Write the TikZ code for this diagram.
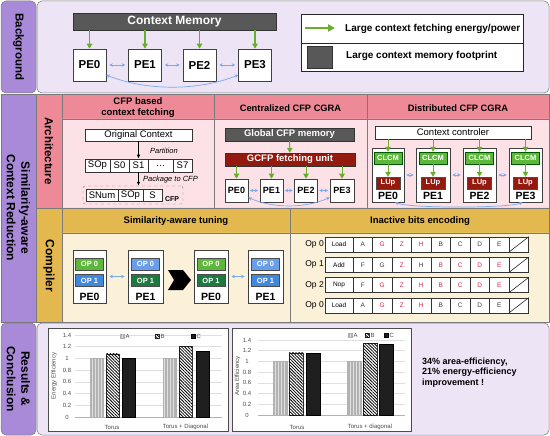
\documentclass[tikz,border=0pt]{standalone}
\usepackage{fontspec}
\setmainfont{Liberation Sans}
\usetikzlibrary{arrows.meta,patterns,patterns.meta}
\definecolor{lblpurple}{HTML}{A98AD8}
\definecolor{lav}{HTML}{EDE4F6}
\definecolor{pinkh}{HTML}{EE8A98}
\definecolor{pinkb}{HTML}{FCE1E6}
\definecolor{goldh}{HTML}{E3B84E}
\definecolor{goldb}{HTML}{FBF0D8}
\definecolor{garrow}{HTML}{6AAE2E}
\definecolor{barrowc}{HTML}{7AA9EE}
\definecolor{cmgray}{HTML}{585858}
\definecolor{dred}{HTML}{941A10}
\definecolor{opgreen}{HTML}{5DB83A}
\definecolor{opdgreen}{HTML}{1C7A3E}
\definecolor{opblue}{HTML}{3F88E0}
\definecolor{oplblue}{HTML}{6B9EEA}
\definecolor{tk}{HTML}{3A3A3A}
\definecolor{tr}{HTML}{D8254A}
\definecolor{framegray}{HTML}{7A7A7A}
\newcommand\fsz[1]{\fontsize{#1}{#1}\selectfont}
\newcommand\cellrow[5]{%
  \node[anchor=east, font=\fsz{8.5}, inner sep=0.5pt] (#1lab) at (324.5,#2) {#3};
  \node[tcell, minimum width=28pt, minimum height=15pt, font=\fsz{6.5}] (#1c0) at (339,#2) {#4};
  \foreach \t/\c [count=\i] in {#5} {
    \node[tcell, minimum width=19.5pt, minimum height=15pt, text=\c, font=\fsz{6.5}] (#1c\i) at ({343.25+\i*19.5},#2) {\t};
  }
  \node[tcell, minimum width=19.5pt, minimum height=15pt] (#1sl) at (518.75,#2) {};
  \draw[black!85, line width=0.6pt] (#1sl.south west) -- (#1sl.north east);
}
\begin{document}
\begin{tikzpicture}[x=1pt,y=-1pt,
  frame/.style={draw=framegray, line width=0.5pt},
  pe/.style={draw=black!75, fill=white, line width=0.6pt, inner sep=0pt, font=\bfseries\fsz{11.5}},
  garr/.style={-{Triangle[length=5pt,width=5.5pt]}, draw=garrow, line width=1.3pt},
  barr/.style={{Stealth[length=3.5pt,width=3.5pt]}-{Stealth[length=3.5pt,width=3.5pt]}, draw=barrowc, line width=0.7pt},
  tcell/.style={draw=black!80, fill=white, line width=0.6pt, inner sep=0pt, text=black},
  opbox/.style={draw=black!70, minimum width=28pt, minimum height=12pt, inner sep=0pt, text=white, font=\bfseries\fsz{7.5}},
  barA/.style={fill=gray!25, draw=gray!60, line width=0.3pt, postaction={pattern={Lines[angle=90,distance=1.5pt,line width=0.3pt]}, pattern color=gray!60}},
  barB/.style={fill=white, draw=black!80, line width=0.3pt, postaction={pattern={Lines[angle=-45,distance=2.2pt,line width=0.8pt]}, pattern color=black}},
  barC/.style={fill=black!88, draw=black, line width=0.3pt},
  ctxt/.style={font=\fsz{6}, text=black!70, inner sep=0.5pt},
  txtsm/.style={inner sep=1pt}
]
\useasboundingbox (0,0) rectangle (550,436);

% ===== Background =====
\draw[frame, fill=lblpurple, rounded corners=5pt] (1,1) rectangle (36,93);
\node[rotate=-90, font=\bfseries\fsz{11.5}] (bgl) at (18.5,47) {Background};
\draw[frame, fill=lav, rounded corners=5pt] (37,1) rectangle (549,93);

\node[fill=cmgray, draw=black!80, minimum width=203pt, minimum height=17pt, inner sep=0pt, text=white, font=\bfseries\fsz{12}] (cm) at (174.5,21.5) {Context Memory};
\node[pe, minimum width=33pt, minimum height=32pt] (b0) at (89.5,65) {PE0};
\node[pe, minimum width=33pt, minimum height=32pt] (b1) at (145,65) {PE1};
\node[pe, minimum width=33pt, minimum height=32pt] (b2) at (199.5,65) {PE2};
\node[pe, minimum width=33pt, minimum height=32pt] (b3) at (255,65) {PE3};
\foreach \n in {b0,b1,b2,b3} \draw[garr] (cm.south -| \n) -- (\n.north);
\draw[barr, shorten <=3pt, shorten >=3pt] (b0) -- (b1);
\draw[barr, shorten <=3pt, shorten >=3pt] (b1) -- (b2);
\draw[barr, shorten <=3pt, shorten >=3pt] (b2) -- (b3);
\draw[barr] ([yshift=-10pt]b0.east) .. controls +(40,16) and +(-40,16) .. ([yshift=-10pt]b3.west);

\node[draw=black!85, fill=white, line width=0.6pt, minimum width=222pt, minimum height=57pt, inner sep=0pt] (leg) at (412,42.5) {};
\draw[black!85, line width=0.6pt] (leg.west |- 0,43) -- (leg.east |- 0,43);
\coordinate (la0) at (305,28);
\coordinate (la1) at (335,28);
\draw[garr, line width=1.8pt, -{Triangle[length=7pt,width=7pt]}] (la0) -- (la1);
\node[anchor=west, font=\bfseries\fsz{10}, txtsm] (lt1) at (344,28.5) {Large context fetching energy/power};
\node[fill=cmgray, draw=black!80, minimum width=25pt, minimum height=22pt, inner sep=0pt] (lsq) at (320,57) {};
\node[anchor=west, font=\bfseries\fsz{10}, txtsm] (lt2) at (345,56) {Large context memory footprint};

% ===== Similarity-aware =====
\draw[frame, fill=lblpurple] (1,94) rectangle (36,322);
\node[rotate=-90, align=center, font=\bfseries\fontsize{12}{14.5}\selectfont, inner sep=0pt] (simlbl) at (18.5,208) {Similarity-aware\\Context Reduction};
\draw[frame, fill=pinkh] (36,94) rectangle (62,208);
\node[rotate=-90, font=\bfseries\fsz{11.5}] (archl) at (49,151) {Architecture};
\draw[frame, fill=goldh] (36,208) rectangle (62,322);
\node[rotate=-90, font=\bfseries\fsz{12}] (compl) at (49,266) {Compiler};

\draw[frame, fill=pinkh] (62,94) rectangle (214,119) (214,94) rectangle (367,119) (367,94) rectangle (549,119);
\draw[frame, fill=pinkb] (62,119) rectangle (214,208) (214,119) rectangle (367,208) (367,119) rectangle (549,208);
\node[align=center, font=\bfseries\fontsize{9.5}{11.5}\selectfont] (h1) at (138,107.5) {CFP based\\context fetching};
\node[font=\bfseries\fsz{9.3}] (h2) at (290.5,108) {Centralized CFP CGRA};
\node[font=\bfseries\fsz{9.3}] (h3) at (458,108) {Distributed CFP CGRA};

\draw[frame, fill=goldh] (62,208) rectangle (290,233) (290,208) rectangle (549,233);
\draw[frame, fill=goldb] (62,233) rectangle (290,322) (290,233) rectangle (549,322);
\node[font=\bfseries\fsz{9.5}] (h4) at (176,221.5) {Similarity-aware tuning};
\node[font=\bfseries\fsz{9.5}] (h5) at (420,221.5) {Inactive bits encoding};

% --- CFP based context fetching ---
\node[tcell, minimum width=107pt, minimum height=12pt, font=\fsz{9.5}] (oc) at (138.5,135) {Original Context};
\node[tcell, minimum width=25pt, minimum height=13pt, font=\fsz{9.5}] (c0) at (97.5,165.5) {SOp};
\node[tcell, minimum width=19pt, minimum height=13pt, font=\fsz{9.5}] (c1) at (119.5,165.5) {S0};
\node[tcell, minimum width=19pt, minimum height=13pt, font=\fsz{9.5}] (c2) at (138.5,165.5) {S1};
\node[tcell, minimum width=25pt, minimum height=13pt, font=\fsz{9.5}] (c3) at (160.5,165.5) {\dots};
\node[tcell, minimum width=19pt, minimum height=13pt, font=\fsz{9.5}] (c4) at (182.5,165.5) {S7};
\draw[-{Latex[length=4pt,width=3.5pt]}, line width=0.8pt] (oc.south -| c2) -- (c2.north);
\node[anchor=west, font=\itshape\fsz{7.5}, txtsm] (pt) at (149,151) {Partition};
\node[draw=gray, dashed, rounded corners=2pt, minimum width=100pt, minimum height=18pt, inner sep=0pt] (cfpb) at (133,195) {};
\draw[-{Latex[length=4pt,width=3.5pt]}, line width=0.8pt] (c2.south) -- (cfpb.north -| c2);
\node[anchor=west, font=\itshape\fsz{7.5}, txtsm] (pk) at (142,180) {Package to CFP};
\node[tcell, minimum width=32pt, minimum height=12pt, font=\fsz{9.5}] (s0) at (102,195) {SNum};
\node[tcell, minimum width=25pt, minimum height=12pt, font=\fsz{9.5}] (s1) at (130.5,195) {SOp};
\node[tcell, minimum width=19pt, minimum height=12pt, font=\fsz{9.5}] (s2) at (152.5,195) {S};
\node[font=\bfseries\fsz{7}, txtsm] (cfpl) at (172,199.5) {CFP};

% --- Centralized ---
\node[fill=cmgray, draw=black!80, minimum width=129pt, minimum height=13pt, inner sep=0pt, text=white, font=\bfseries\fsz{9.5}] (gm) at (289.5,134.5) {Global CFP memory};
\node[fill=dred, draw=black!80, minimum width=130pt, minimum height=13pt, inner sep=0pt, text=white, font=\bfseries\fsz{9.5}] (gf) at (290,159.5) {GCFP fetching unit};
\draw[garr, line width=1pt] (gm) -- (gf);
\node[pe, minimum width=23pt, minimum height=23pt, font=\bfseries\fsz{9}] (cp0) at (236.5,190.5) {PE0};
\node[pe, minimum width=23pt, minimum height=23pt, font=\bfseries\fsz{9}] (cp1) at (271.5,190.5) {PE1};
\node[pe, minimum width=23pt, minimum height=23pt, font=\bfseries\fsz{9}] (cp2) at (306,190.5) {PE2};
\node[pe, minimum width=24pt, minimum height=23pt, font=\bfseries\fsz{9}] (cp3) at (342,190.5) {PE3};
\foreach \n in {cp0,cp1,cp2,cp3} \draw[garr, line width=1pt] (gf.south -| \n) -- (\n.north);
\draw[barr, shorten <=1.5pt, shorten >=1.5pt] (cp0) -- (cp1);
\draw[barr, shorten <=1.5pt, shorten >=1.5pt] (cp1) -- (cp2);
\draw[barr, shorten <=1.5pt, shorten >=1.5pt] (cp2) -- (cp3);
\draw[barr] ([yshift=-7pt]cp0.east) .. controls +(25,11) and +(-25,11) .. ([yshift=-7pt]cp3.west);

% --- Distributed ---
\node[tcell, minimum width=156pt, minimum height=13pt, font=\fsz{9.5}] (ctl) at (453,132.5) {Context controler};
\foreach \n/\x/\w/\lab in {0/388/32/PE0, 1/433/34/PE1, 2/479.5/33/PE2, 3/525.5/33/PE3} {
  \node[draw=black!75, fill=white, line width=0.7pt, minimum width=\w pt, minimum height=54pt, inner sep=0pt] (dp\n) at (\x,175) {};
  \node[fill=opgreen, draw=green!35!black, text=white, font=\bfseries\fsz{7.5}, minimum width=28pt, minimum height=12pt, inner sep=0pt] (cl\n) at (\x,158) {CLCM};
  \node[fill=dred, draw=black!70, text=white, font=\bfseries\fsz{7.5}, minimum width=24pt, minimum height=12pt, inner sep=0pt] (lu\n) at (\x,183) {LUp};
  \node[font=\bfseries\fsz{10.5}, inner sep=0pt] (dl\n) at (\x,196) {\lab};
  \draw[garr, line width=1pt] (ctl.south -| cl\n) -- (cl\n.north);
  \draw[garr, line width=1pt] (cl\n) -- (lu\n);
}
\draw[barr, shorten <=2pt, shorten >=2pt] (dp0) -- (dp1);
\draw[barr, shorten <=2pt, shorten >=2pt] (dp1) -- (dp2);
\draw[barr, shorten <=2pt, shorten >=2pt] (dp2) -- (dp3);
\draw[barr] ([xshift=7pt]dp0.south) .. controls +(15,6) and +(-15,6) .. ([xshift=-3pt]dp3.south);

% --- Similarity-aware tuning ---
\foreach \n/\x/\w/\ca/\cb/\lab in {0/89.5/33/opgreen/opblue/PE0, 1/145.5/35/oplblue/opdgreen/PE1, 2/211/34/opgreen/opdgreen/PE0, 3/265.5/35/oplblue/opblue/PE1} {
  \node[draw=black!75, fill=white, line width=0.7pt, minimum width=\w pt, minimum height=53pt, inner sep=0pt] (t\n) at (\x,276.5) {};
  \node[opbox, fill=\ca] (ta\n) at (\x,264) {OP 0};
  \node[opbox, fill=\cb] (tb\n) at (\x,280.5) {OP 1};
  \node[font=\bfseries\fsz{10.5}, inner sep=0pt] (tl\n) at (\x,297) {\lab};
}
\draw[barr, shorten <=3pt, shorten >=3pt] (t0) -- (t1);
\draw[barr, shorten <=3pt, shorten >=3pt] (t2) -- (t3);
\fill[black] (168,270) -- (183,270) -- (191,280) -- (183,290) -- (168,290) -- (174,280) -- cycle;

% --- Inactive bits encoding ---
\cellrow{ra}{244.5}{Op 0}{Load}{A/tk,G/tr,Z/tr,H/tr,B/tk,C/tk,D/tk,E/tk}
\cellrow{rb}{264.8}{Op 1}{Add}{F/tk,G/tk,Z/tr,H/tk,B/tr,C/tr,D/tr,E/tr}
\cellrow{rc}{285.1}{Op 2}{Nop}{F/tk,G/tr,Z/tr,H/tr,B/tr,C/tr,D/tr,E/tr}
\cellrow{rd}{305.4}{Op 0}{Load}{A/tk,G/tr,Z/tr,H/tr,B/tk,C/tk,D/tk,E/tk}

% ===== Results =====
\draw[frame, fill=lblpurple, rounded corners=5pt] (1,323) rectangle (36,435);
\node[rotate=-90, align=center, font=\bfseries\fontsize{12}{14.5}\selectfont, inner sep=0pt] (resl) at (18.5,379) {Results \&\\Conclusion};
\draw[frame, fill=lav, rounded corners=5pt] (37,323) rectangle (549,435);

% chart 1
\node[draw=black!70, fill=white, line width=0.6pt, minimum width=180pt, minimum height=103pt, inner sep=0pt] (ch1) at (138,379.5) {};
\foreach \i/\lab in {0/0,1/0.2,2/0.4,3/0.6,4/0.8,5/1,6/1.2,7/1.4} {
  \pgfmathsetmacro\yy{417-\i*0.2*58.6}
  \draw[gray!25, line width=0.4pt] (75,\yy) -- (222,\yy);
  \node[ctxt] at (67,\yy) {\lab};
}
\draw[gray!60, line width=0.4pt] (75,417) -- (222,417);
\foreach \x/\v in {90/1.0, 163/1.0} \draw[barA] (\x,417) rectangle ++(13,-\v*58.6);
\foreach \x/\v in {106/1.08, 179/1.21} \draw[barB] (\x,417) rectangle ++(13,-\v*58.6);
\foreach \x/\v in {122/1.0, 196/1.12} \draw[barC] (\x,417) rectangle ++(13,-\v*58.6);
\node[rotate=90, ctxt] (yt1) at (54,376) {Energy Efficiency};
\node[ctxt] (xa1) at (112,427) {Torus};
\node[ctxt] (xb1) at (185.5,427) {Torus + Diagonal};
\draw[barA] (120,334) rectangle ++(4,4);
\node[ctxt, anchor=west] (la) at (125,336) {A};
\draw[barB] (155,334) rectangle ++(4,4);
\node[ctxt, anchor=west] (lb) at (160,336) {B};
\draw[barC] (191,334) rectangle ++(4,4);
\node[ctxt, anchor=west] (lc) at (196,336) {C};

% chart 2
\node[draw=black!70, fill=white, line width=0.6pt, minimum width=179pt, minimum height=103pt, inner sep=0pt] (ch2) at (321.5,379.5) {};
\foreach \i/\lab in {0/0,1/0.2,2/0.4,3/0.6,4/0.8,5/1,6/1.2,7/1.4} {
  \pgfmathsetmacro\yy{415-\i*0.2*53.6}
  \draw[gray!25, line width=0.4pt] (258,\yy) -- (405,\yy);
  \node[ctxt] at (247,\yy) {\lab};
}
\draw[gray!60, line width=0.4pt] (258,415) -- (405,415);
\foreach \x/\v in {273/1.0, 347/1.0} \draw[barA] (\x,415) rectangle ++(14,-\v*53.6);
\foreach \x/\v in {289/1.16, 363/1.34} \draw[barB] (\x,415) rectangle ++(14,-\v*53.6);
\foreach \x/\v in {306/1.15, 379/1.33} \draw[barC] (\x,415) rectangle ++(14,-\v*53.6);
\node[rotate=90, ctxt] (yt2) at (237.5,376) {Area Efficiency};
\node[ctxt] (xa2) at (297,427) {Torus};
\node[ctxt] (xb2) at (370,427) {Torus + diagonal};
\draw[barA] (348,333) rectangle ++(4,4);
\node[ctxt, anchor=west] (la2) at (353,335) {A};
\draw[barB] (365,333) rectangle ++(4,4);
\node[ctxt, anchor=west] (lb2) at (370,335) {B};
\draw[barC] (384,333) rectangle ++(4,4);
\node[ctxt, anchor=west] (lc2) at (389,335) {C};

\node[anchor=west, align=left, font=\bfseries\fontsize{9}{10.8}\selectfont, inner sep=0pt] (restxt) at (422,372.5) {34\% area-efficiency,\\21\% energy-efficiency\\improvement !};
\end{tikzpicture}
\end{document}
